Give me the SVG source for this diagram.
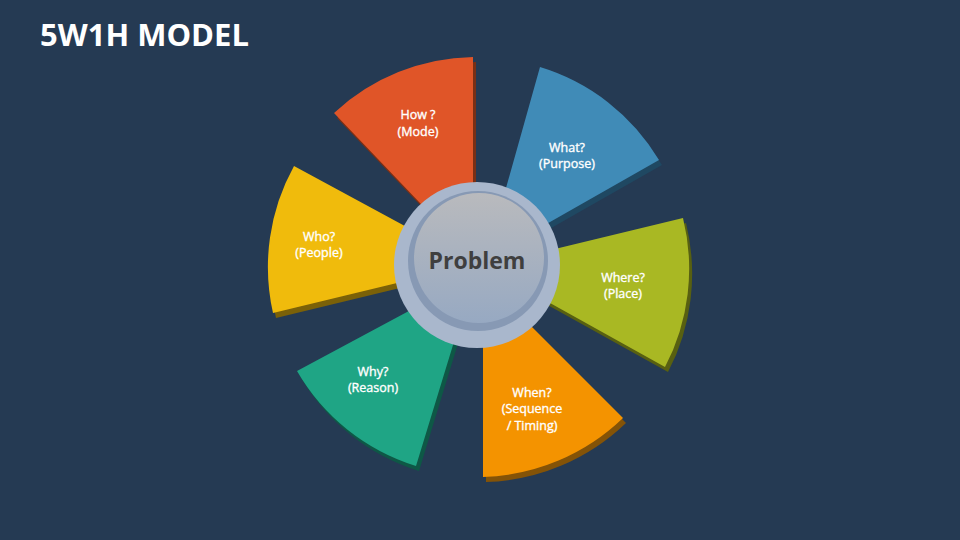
<svg xmlns="http://www.w3.org/2000/svg" xmlns:xlink="http://www.w3.org/1999/xlink" width="960" height="540" viewBox="0 0 960 540">
<style>
.lbl{font-family:"Open Sans","Noto Sans","Liberation Sans",sans-serif;font-size:12.5px;font-weight:400;fill:#ffffff;stroke:#ffffff;stroke-width:0.35px;text-anchor:middle}
.title{font-family:"Open Sans","Noto Sans","Liberation Sans",sans-serif;font-size:31px;font-weight:700;fill:#ffffff}
.prob{font-family:"Open Sans","Noto Sans","Liberation Sans",sans-serif;font-size:23px;font-weight:700;fill:#3f3f3f;text-anchor:middle}
</style>
<defs>
<path id="p-how" d="M477,265 L420,203 L334,113 A209,209 0 0 1 473,57 L473,183 Z"/>
<path id="p-what" d="M477,265 L506,188 L540,67 A209,209 0 0 1 659,160 L550,222 Z"/>
<path id="p-where" d="M477,265 L559,248 L683,218 A212,212 0 0 1 665,367 L550,303 Z"/>
<path id="p-when" d="M477,265 L532,327 L623,418 A211,211 0 0 1 483,477 L483,347 Z"/>
<path id="p-why" d="M477,265 L453,345 L416,466 A209,209 0 0 1 297,371 L407,312 Z"/>
<path id="p-who" d="M477,265 L397,283 L273,313 A209,209 0 0 1 294,166 L403,225 Z"/>
<linearGradient id="disk" x1="0" y1="0" x2="0" y2="1">
<stop offset="0" stop-color="#b9babd"/>
<stop offset="1" stop-color="#97a9c2"/>
</linearGradient>
</defs>
<rect width="960" height="540" fill="#253a53"/>
<text class="title" x="40" y="46">5W1H MODEL</text>
<g id="how">
<use xlink:href="#p-how" href="#p-how" transform="translate(3,5)" fill="#7a2f15"/>
<use xlink:href="#p-how" href="#p-how" fill="#e05528"/>
<text class="lbl" x="418" y="119">How ?</text>
<text class="lbl" x="418" y="135.5">(Mode)</text>
</g>
<g id="what">
<use xlink:href="#p-what" href="#p-what" transform="translate(3,5)" fill="#1f4862"/>
<use xlink:href="#p-what" href="#p-what" fill="#408bb7"/>
<text class="lbl" x="567" y="151.5">What?</text>
<text class="lbl" x="567" y="168">(Purpose)</text>
</g>
<g id="where">
<use xlink:href="#p-where" href="#p-where" transform="translate(3,5)" fill="#586011"/>
<use xlink:href="#p-where" href="#p-where" fill="#a9b823"/>
<text class="lbl" x="623" y="281.5">Where?</text>
<text class="lbl" x="623" y="298">(Place)</text>
</g>
<g id="when">
<use xlink:href="#p-when" href="#p-when" transform="translate(3,5)" fill="#845307"/>
<use xlink:href="#p-when" href="#p-when" fill="#f49300"/>
<text class="lbl" x="532" y="396.5">When?</text>
<text class="lbl" x="532" y="413">(Sequence</text>
<text class="lbl" x="532" y="430">/ Timing)</text>
</g>
<g id="why">
<use xlink:href="#p-why" href="#p-why" transform="translate(3,5)" fill="#0e5846"/>
<use xlink:href="#p-why" href="#p-why" fill="#1fa585"/>
<text class="lbl" x="373" y="375.5">Why?</text>
<text class="lbl" x="373" y="392">(Reason)</text>
</g>
<g id="who">
<use xlink:href="#p-who" href="#p-who" transform="translate(3,5)" fill="#7b6108"/>
<use xlink:href="#p-who" href="#p-who" fill="#f0bb0c"/>
<text class="lbl" x="319" y="240.5">Who?</text>
<text class="lbl" x="319" y="257">(People)</text>
</g>
<g id="problem">
<circle cx="477" cy="265" r="83" fill="#a9b7cc"/>
<circle cx="478" cy="261" r="70" fill="#8799b4"/>
<circle cx="479" cy="258" r="65" fill="url(#disk)"/>
<text class="prob" x="477" y="269">Problem</text>
</g>
</svg>
